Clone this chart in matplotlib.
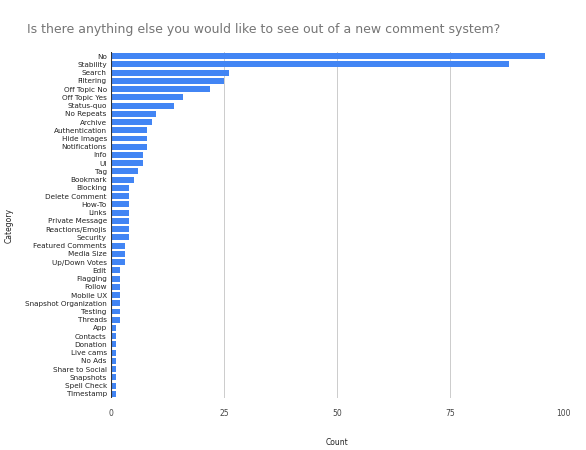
import matplotlib
matplotlib.use("Agg")
import matplotlib.pyplot as plt

categories = ["No","Stability","Search","Filtering","Off Topic No","Off Topic Yes","Status-quo","No Repeats","Archive",
"Authentication","Hide Images","Notifications","Info","UI","Tag","Bookmark","Blocking","Delete Comment","How-To","Links",
"Private Message","Reactions/Emojis","Security","Featured Comments","Media Size","Up/Down Votes","Edit","Flagging","Follow",
"Mobile UX","Snapshot Organization","Testing","Threads","App","Contacts","Donation","Live cams","No Ads","Share to Social",
"Snapshots","Spell Check","Timestamp"]
counts = [96,88,26,25,22,16,14,10,9,8,8,8,7,7,6,5,4,4,4,4,4,4,4,3,3,3,2,2,2,2,2,2,2,1,1,1,1,1,1,1,1,1]
xticks = [0,25,50,75,100]

fig = plt.figure(figsize=(5.86,4.5), dpi=100)
ax = fig.add_axes([111/586, 52/450, (563-111)/586, (398-52)/450])
y = list(range(len(categories)))
ax.barh(y, counts, height=0.72, color="#4285f4")
ax.set_yticks(y)
ax.set_yticklabels(categories, fontsize=5.2, color="#222222")
ax.set_ylim(len(categories)-0.5, -0.5)
ax.set_xlim(0,100)
ax.set_xticks(xticks)
ax.set_xticklabels([str(t) for t in xticks], fontsize=5.5, color="#444444")
ax.tick_params(length=0, pad=3)
ax.tick_params(axis='x', pad=8)
ax.grid(axis='x', color="#cccccc", linewidth=0.7)
ax.set_axisbelow(True)
for s in ax.spines.values():
    s.set_visible(False)
ax.axvline(0, color="#333333", linewidth=0.8)
ax.set_xlabel("Count", fontsize=5.5, color="#222222", labelpad=14)
ax.set_ylabel("Category", fontsize=5.5, color="#222222", labelpad=8)
fig.text(27/586, 1-30/450, "Is there anything else you would like to see out of a new comment system?",
         fontsize=9, color="#757575", va="center", ha="left")
fig.savefig("out.png", dpi=100)
